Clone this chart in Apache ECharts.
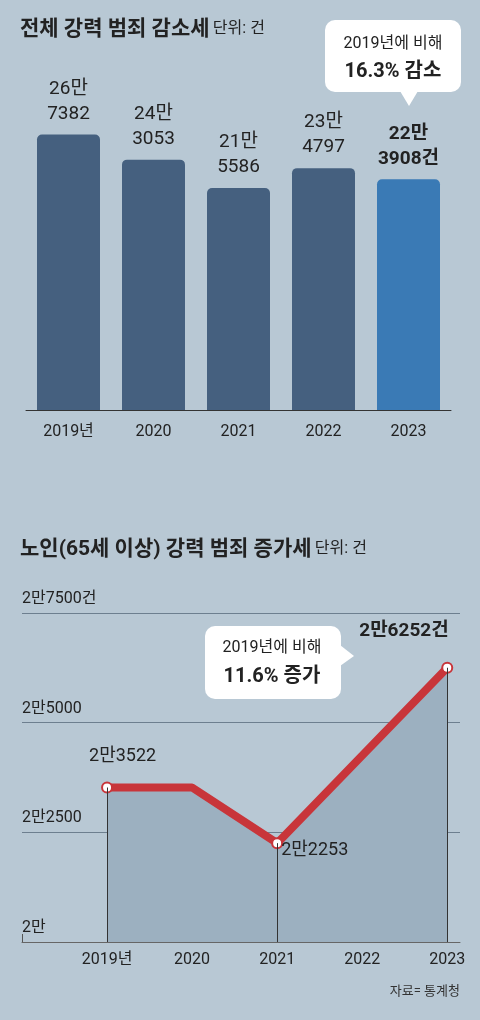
<!DOCTYPE html><html><head><meta charset="utf-8">
<script src="https://cdn.jsdelivr.net/npm/echarts@6/dist/echarts.min.js"></script>
<style>html,body{margin:0;padding:0;background:#b8c8d4}#c{width:480px;height:1020px}</style></head><body><div id="c"></div>
<script>
const barCats=['2019년','2020','2021','2022','2023'];
const barVals=[267382,243053,215586,234797,223908];
const barLabels=['26만\n7382','24만\n3053','21만\n5586','23만\n4797','22만\n3908건'];
const lineYears=[2019,2020,2021,2022,2023];
const lineVals=[23522,23522,22253,24250,26252];
const lineTickLabels={20000:'2만',22500:'2만2500',25000:'2만5000',27500:'2만7500건'};
const F='Roboto, "Noto Sans CJK KR", sans-serif';
const chart=echarts.init(document.getElementById('c'));
chart.setOption({
 backgroundColor:'#b8c8d4',animation:false,
 grid:[{left:26,right:29,top:101,bottom:610},{left:22,right:20,top:613,bottom:78}],
 xAxis:[{gridIndex:0,type:'category',data:barCats,axisLine:{lineStyle:{color:'#333',width:1}},axisTick:{show:false},axisLabel:{color:'#222',fontSize:16,fontFamily:F,margin:14}},
  {gridIndex:1,type:'value',min:2018,max:2023.15,interval:1,splitLine:{show:false},axisLine:{show:true,lineStyle:{color:'#666'}},
   axisTick:{show:true,inside:true,length:8,lineStyle:{color:'#555'}},
   axisLabel:{color:'#222',fontSize:16,fontFamily:F,margin:10,formatter:v=>{v=Math.round(v);return v>=2019&&v<=2023?(v===2019?v+'년':''+v):'';}}}],
 yAxis:[{gridIndex:0,type:'value',min:0,max:300000,show:false},
  {gridIndex:1,type:'value',min:20000,max:27500,interval:2500,axisLine:{show:false},axisTick:{show:false},
   splitLine:{lineStyle:{color:'#6d7f8f',width:1}},
   axisLabel:{inside:true,verticalAlign:'bottom',margin:0,padding:[0,0,6,0],color:'#222',fontSize:16,fontFamily:F,formatter:v=>lineTickLabels[v]||''}}],
 graphic:[
  {type:'text',left:20,top:19,style:{text:'{a|전체 강력 범죄 감소세} {b|단위: 건}',rich:{a:{fontSize:21,fontWeight:'bold',fill:'#222',fontFamily:F},b:{fontSize:16,fill:'#222',fontFamily:F}}}},
  {type:'text',left:20,top:539,style:{text:'{a|노인(65세 이상) 강력 범죄 증가세} {b|단위: 건}',rich:{a:{fontSize:21,fontWeight:'bold',fill:'#222',fontFamily:F},b:{fontSize:16,fill:'#222',fontFamily:F}}}},
  {type:'rect',shape:{x:325,y:20,width:136,height:72,r:10},style:{fill:'#fff'}},
  {type:'polygon',shape:{points:[[400,91],[418,91],[409,106]]},style:{fill:'#fff'}},
  {type:'text',x:393,y:44,style:{text:'2019년에 비해',fontSize:16,fill:'#222',fontFamily:F,align:'center',verticalAlign:'middle'}},
  {type:'text',x:393,y:72,style:{text:'16.3% 감소',fontSize:20,fontWeight:'bold',fill:'#222',fontFamily:F,align:'center',verticalAlign:'middle'}},
  {type:'rect',shape:{x:205,y:626,width:136,height:73,r:10},style:{fill:'#fff'}},
  {type:'polygon',shape:{points:[[340,645],[340,666],[354,656]]},style:{fill:'#fff'}},
  {type:'text',x:272,y:648,style:{text:'2019년에 비해',fontSize:16,fill:'#222',fontFamily:F,align:'center',verticalAlign:'middle'}},
  {type:'text',x:272,y:677,style:{text:'11.6% 증가',fontSize:20,fontWeight:'bold',fill:'#222',fontFamily:F,align:'center',verticalAlign:'middle'}},
  {type:'text',right:20,top:985,style:{text:'자료= 통계청',fontSize:13,fill:'#333',fontFamily:F}}
 ],
 series:[
  {type:'bar',xAxisIndex:0,yAxisIndex:0,barWidth:63,
   data:barVals.map((v,i)=>({value:v,itemStyle:{color:i===4?'#3a7ab5':'#45607f',borderRadius:[5,5,0,0]},
     label:{show:true,position:'top',distance:8,formatter:barLabels[i],fontSize:19,fontWeight:i===4?'bold':'normal',color:'#222',fontFamily:F,lineHeight:25}}))},
  {type:'line',xAxisIndex:1,yAxisIndex:1,
   lineStyle:{color:'#c8353a',width:8},areaStyle:{color:'#9cb0c0',opacity:1},
   symbol:'circle',symbolSize:10,itemStyle:{color:'#fff',borderColor:'#c8353a',borderWidth:2},
   data:lineYears.map((y,i)=>{const d={value:[y,lineVals[i]]};
     if(i===1||i===3){d.symbol='none';}
     if(i===0)d.label={show:true,formatter:'2만3522',position:[-12,-34],fontSize:18,color:'#222',fontFamily:F};
     if(i===2)d.label={show:true,formatter:'2만2253',position:[10,4],fontSize:18,color:'#222',fontFamily:F};
     if(i===4)d.label={show:true,formatter:'2만6252건',position:[-82,-40],fontSize:19,fontWeight:'bold',color:'#222',fontFamily:F};
     return d;}),
   markLine:{silent:true,symbol:'none',label:{show:false},lineStyle:{color:'#333',width:1,type:'solid'},
    data:[0,2,4].map(i=>[{coord:[lineYears[i],20000]},{coord:[lineYears[i],lineVals[i]]}])},
   z:3}
 ]
});
</script></body></html>
